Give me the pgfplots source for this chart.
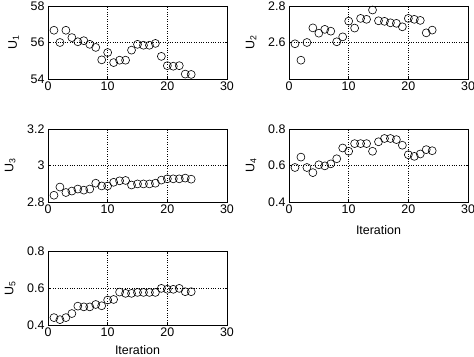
\documentclass[border=0pt]{standalone}
\usepackage{pgfplots}
\pgfplotsset{compat=1.18}
\usepackage{fontspec}
\setmainfont{Liberation Sans}
\pgfplotsset{
  panel/.style={
    anchor=south west,
    scale only axis,
    width=179bp, height=73bp,
    xmin=0, xmax=30, xtick={0,10,20,30},
    tick align=inside, major tick length=2.5pt,
    grid=major,
    major grid style={black, dotted, line width=0.6pt},
    axis line style={black, line width=0.6pt},
    every tick/.style={black, line width=0.5pt},
    tick label style={font=\fontsize{12.5}{14}\selectfont},
    label style={font=\fontsize{12.5}{14}\selectfont},
    /pgf/number format/assume math mode=true,
    xticklabel style={yshift=1pt},
    yticklabel style={xshift=0pt},
    ylabel style={yshift=5pt},
    xlabel style={yshift=-5pt},
  },
  pts/.style={only marks, mark=o, mark size=4pt, black, line width=0.6pt, mark options={fill=white}},
}
\begin{document}
\begin{tikzpicture}
\useasboundingbox (0,0) rectangle (474bp,357bp);
% U1
\begin{axis}[panel, at={(48bp,278bp)}, ymin=54, ymax=58, ytick={54,56,58}, ylabel={U\textsubscript{1}}]
\addplot[pts] coordinates {
(1,56.67)(2,56.0)(3,56.67)(4,56.27)(5,56.04)(6,56.1)(7,55.9)(8,55.73)
(9,55.05)(10,55.45)(11,54.9)(12,55.03)(13,55.03)(14,55.58)(15,55.9)(16,55.85)
(17,55.85)(18,55.95)(19,55.24)(20,54.73)(21,54.7)(22,54.73)(23,54.27)(24,54.25)};
\end{axis}
% U2
\begin{axis}[panel, at={(289bp,278bp)}, ymin=2.4, ymax=2.8, ytick={2.6,2.8}, ylabel={U\textsubscript{2}},
  yticklabel style={/pgf/number format/fixed, /pgf/number format/precision=1}]
\addplot[pts] coordinates {
(1,2.593)(2,2.503)(3,2.6)(4,2.68)(5,2.651)(6,2.672)(7,2.662)(8,2.604)
(9,2.631)(10,2.717)(11,2.679)(12,2.732)(13,2.727)(14,2.778)(15,2.719)(16,2.716)
(17,2.708)(18,2.705)(19,2.686)(20,2.732)(21,2.727)(22,2.721)(23,2.653)(24,2.668)};
\end{axis}
% U3
\begin{axis}[panel, at={(48bp,155bp)}, ymin=2.8, ymax=3.2, ytick={2.8,3,3.2}, ylabel={U\textsubscript{3}},
  yticklabel style={/pgf/number format/fixed, /pgf/number format/precision=1}]
\addplot[pts] coordinates {
(1,2.837)(2,2.882)(3,2.852)(4,2.86)(5,2.871)(6,2.865)(7,2.871)(8,2.903)
(9,2.888)(10,2.888)(11,2.908)(12,2.916)(13,2.918)(14,2.893)(15,2.899)(16,2.899)
(17,2.899)(18,2.903)(19,2.92)(20,2.927)(21,2.927)(22,2.927)(23,2.931)(24,2.925)};
\end{axis}
% U4
\begin{axis}[panel, at={(289bp,155bp)}, ymin=0.4, ymax=0.8, ytick={0.4,0.6,0.8}, ylabel={U\textsubscript{4}}, xlabel={Iteration},
  yticklabel style={/pgf/number format/fixed, /pgf/number format/fixed zerofill, /pgf/number format/precision=1}]
\addplot[pts] coordinates {
(1,0.589)(2,0.646)(3,0.589)(4,0.561)(5,0.604)(6,0.598)(7,0.609)(8,0.637)
(9,0.696)(10,0.678)(11,0.72)(12,0.72)(13,0.72)(14,0.678)(15,0.73)(16,0.748)
(17,0.748)(18,0.742)(19,0.711)(20,0.659)(21,0.65)(22,0.663)(23,0.687)(24,0.681)};
\end{axis}
% U5
\begin{axis}[panel, at={(48bp,32bp)}, height=74bp, ymin=0.4, ymax=0.8, ytick={0.4,0.6,0.8}, ylabel={U\textsubscript{5}}, xlabel={Iteration},
  xlabel style={yshift=3pt},
  yticklabel style={/pgf/number format/fixed, /pgf/number format/fixed zerofill, /pgf/number format/precision=1}]
\addplot[pts] coordinates {
(1,0.44)(2,0.429)(3,0.44)(4,0.462)(5,0.502)(6,0.498)(7,0.498)(8,0.511)
(9,0.504)(10,0.535)(11,0.538)(12,0.578)(13,0.571)(14,0.571)(15,0.576)(16,0.576)
(17,0.576)(18,0.576)(19,0.598)(20,0.593)(21,0.593)(22,0.598)(23,0.58)(24,0.58)};
\end{axis}
\end{tikzpicture}
\end{document}
